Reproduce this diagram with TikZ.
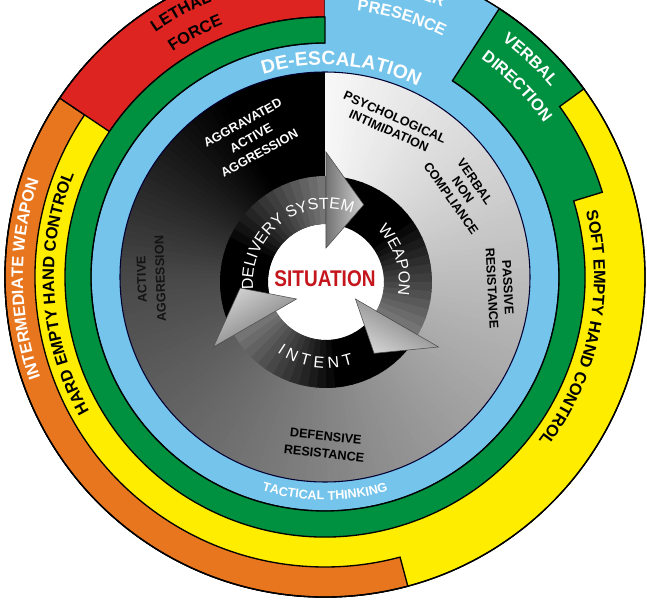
\documentclass[tikz,border=0pt]{standalone}
\usepackage{fontspec}
\setmainfont{Liberation Sans}
\usetikzlibrary{decorations.text}

\definecolor{ringred}{RGB}{221,36,33}
\definecolor{ringorange}{RGB}{232,118,30}
\definecolor{ringyellow}{RGB}{255,237,0}
\definecolor{ringgreen}{RGB}{0,145,64}
\definecolor{ringblue}{RGB}{117,196,235}
\definecolor{sitred}{RGB}{196,22,28}

\newcommand\outfont{\fontsize{12.3}{14}\selectfont\bfseries}
\newcommand\infont{\fontsize{9.5}{11}\selectfont\bfseries}
\newcommand\bandfont{\fontsize{14.5}{16}\selectfont\bfseries}
\newcommand\cyclefont{\fontsize{12}{14}\selectfont}

\tikzset{
  seg/.style={draw=black, line width=1pt},
  arctxt/.style 2 args={decorate, decoration={text along path, text align=center, text color=#1, text={#2}}},
  lbl/.style={font=\infont, align=center},
}

\begin{document}
\begin{tikzpicture}[x=0.75pt, y=0.75pt]
        \fill[white] (-325,-323) rectangle (322,277);
        \useasboundingbox (-325,-323) rectangle (322,277);
        % outer ring
        \filldraw[seg, fill=ringyellow] (0,0) circle[radius=320];
        \filldraw[seg, fill=ringorange] (146:290) arc[start angle=146, end angle=285, radius=290] -- (285:320) arc[start angle=285, end angle=146, radius=320] -- cycle;
        \filldraw[seg, fill=ringred] (90:260) arc[start angle=90, end angle=146, radius=260] -- (146:320) arc[start angle=146, end angle=90, radius=320] -- cycle;
        % blue ring and officer presence
        \filldraw[seg, fill=ringblue] (0,0) circle[radius=234];
        \fill[ringblue] (57:225) arc[start angle=57, end angle=90, radius=225] -- (90:320) arc[start angle=90, end angle=57, radius=320] -- cycle;
        % green ring and verbal direction
        \filldraw[seg, fill=ringgreen] (90:234) arc[start angle=90, end angle=417, radius=234] -- (57:320) arc[start angle=57, end angle=36, radius=320] -- (36:290) arc[start angle=36, end angle=17, radius=290] -- (17:260) arc[start angle=377, end angle=90, radius=260] -- cycle;
        \draw[seg] (0,0) circle[radius=320];
        % gray disk, shaded round from white to black
        \foreach \a in {0,2,...,358}{
          \pgfmathsetmacro\p{\a<270 ? 3+\a*0.255 : min(100,72+(\a-270)*0.47)}
          \fill[black!\p] (0,0) -- ({90-\a+0.6}:205) arc[start angle={90-\a+0.6}, delta angle=-2.6, radius=205] -- cycle;
        }
        \draw[line width=0.8pt, black!80!blue] (0,0) circle[radius=205];
        % cycle of arrows
        \begin{scope}[shift={(1,-5)}]
          \fill[white] (0,0) circle[radius=58];
          \foreach \b in {90,-30,-150}{
            \foreach \i in {0,...,23}{
              \pgfmathsetmacro\p{\i<10 ? 100 : 100-(\i-10)*3.5}
              \fill[black!\p] ({\b+120-5*\i}:58) arc[start angle={\b+120-5*\i}, delta angle=-5.6, radius=58] -- ({\b+114.4-5*\i}:106) arc[start angle={\b+114.4-5*\i}, delta angle=5.6, radius=106] -- cycle;
            }
          }
          \foreach \b/\s in {90/-90,-30/-210,-150/-330}
            \shadedraw[draw=black!70, line width=0.4pt, top color=black!18, bottom color=black!55, shading angle=\s] (\b:130) -- ({\b-26}:86) -- (\b:34) -- cycle;
          \path[arctxt={white}{|\cyclefont|DELIVERY SYSTEM}] (197.5:73) arc[start angle=197.5, end angle=57.5, radius=73];
          \path[arctxt={white}{|\cyclefont|WEAPON}] (57.5:73) arc[start angle=57.5, end angle=-22.5, radius=73];
          \path[arctxt={white}{|\cyclefont|I N T E N T}] (212:86) arc[start angle=212, end angle=312, radius=86];
        \end{scope}
        \node[text=sitred, font={\fontsize{15.5}{17}\selectfont\bfseries}] (situation) at (0,-2) {\scalebox{0.92}[1.1]{SITUATION}};
        % labels in the gray disk
        \node[lbl, text=white, rotate=29, font={\fontsize{9.5}{13}\selectfont\bfseries}] (aggravated) at (-74,139) {AGGRAVATED\\ACTIVE\\AGGRESSION};
        \node[lbl, rotate=-24] (psychological) at (67,153) {PSYCHOLOGICAL\\INTIMIDATION};
        \node[lbl, rotate=-55] (noncompliance) at (138,87) {VERBAL\\NON\\COMPLIANCE};
        \node[lbl, rotate=-87, font={\fontsize{9.5}{12}\selectfont\bfseries}] (passive) at (175,-11) {PASSIVE\\RESISTANCE};
        \node[lbl, rotate=-6, font={\fontsize{9.5}{13}\selectfont\bfseries}] (defensive) at (0,-168) {DEFENSIVE\\RESISTANCE};
        \node[lbl, rotate=92, text=black!92, font={\fontsize{9.5}{14}\selectfont\bfseries}] (active) at (-174,-2) {ACTIVE\\AGGRESSION};
        % texts round the rings
        \path[arctxt={black}{|\outfont|LETHAL}] (148.5:298) arc[start angle=148.5, end angle=88.5, radius=298];
        \path[arctxt={black}{|\outfont|FORCE}] (148:272) arc[start angle=148, end angle=88, radius=272];
        \path[arctxt={white}{|\outfont|OFFICER}] (103.5:294) arc[start angle=103.5, end angle=43.5, radius=294];
        \path[arctxt={white}{|\outfont|PRESENCE}] (103.5:268) arc[start angle=103.5, end angle=43.5, radius=268];
        \path[arctxt={white}{|\outfont|VERBAL}] (76.6:295) arc[start angle=76.6, end angle=16.6, radius=295];
        \path[arctxt={white}{|\outfont|DIRECTION}] (74.8:268) arc[start angle=74.8, end angle=14.8, radius=268];
        \path[arctxt={black}{|\outfont|SOFT EMPTY HAND CONTROL}] (33.3:269) arc[start angle=33.3, end angle=-56.7, radius=269];
        \path[arctxt={black}{|\outfont|HARD EMPTY HAND CONTROL}] (228.7:271) arc[start angle=228.7, end angle=138.7, radius=271];
        \path[arctxt={white}{|\outfont|INTERMEDIATE WEAPON}] (220.4:302) arc[start angle=220.4, end angle=140.4, radius=302];
        \path[arctxt={white}{|\bandfont|DE-ESCALATION}] (130.5:212) arc[start angle=130.5, end angle=40.5, radius=212];
        \path[arctxt={white}{|\fontsize{9.5}{11}\selectfont\bfseries|TACTICAL THINKING}] (230:223) arc[start angle=230, end angle=310, radius=223];
\end{tikzpicture}
\end{document}
